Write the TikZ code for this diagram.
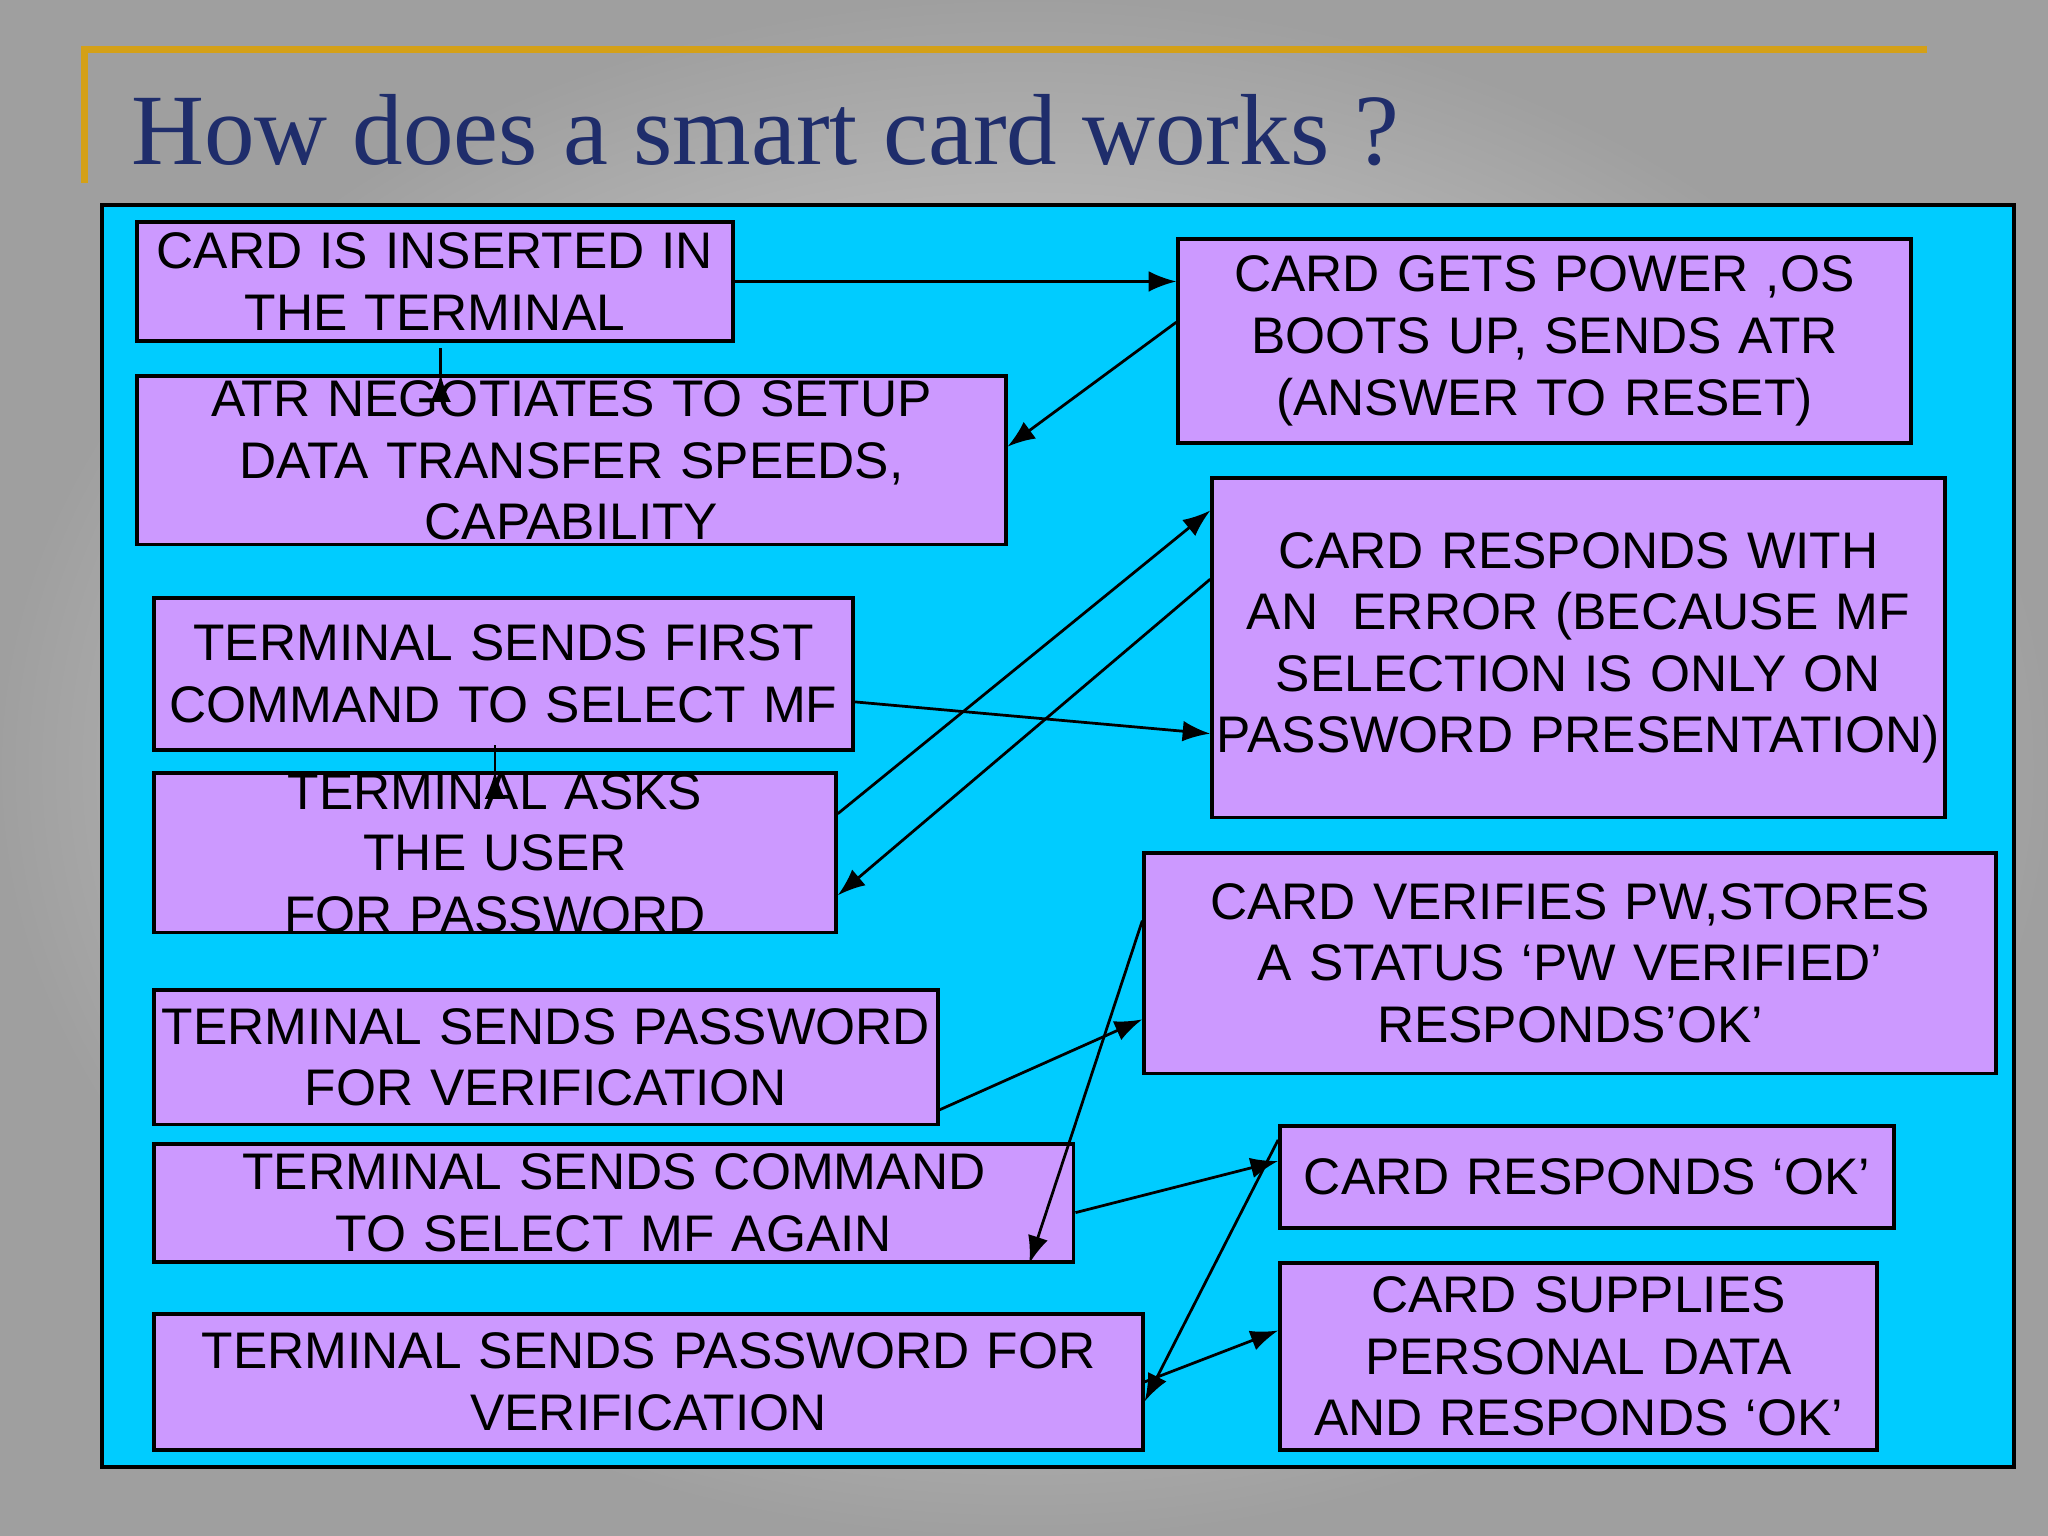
\documentclass[tikz,border=0pt]{standalone}
\usepackage{fontspec}
\setmainfont{Liberation Sans}
\newfontfamily\titlefont{Liberation Serif}
\usetikzlibrary{calc,arrows.meta}
\definecolor{vio}{HTML}{CC99FF}
\definecolor{cyanbg}{HTML}{00CCFF}
\definecolor{navy}{HTML}{1F2D6B}
\definecolor{gold}{HTML}{D4A017}
\tikzset{
 bx/.style={draw=black,line width=0.8pt,fill=vio,inner sep=0pt,align=center,
   font=\fontsize{11.2pt}{13.4pt}\selectfont},
 ar/.style={draw=black,line width=0.6pt,-{Latex[length=6pt,width=4.5pt]}}
}
\newcommand{\bxnode}[5]{\node[bx,text width={(#4-#2)*0.01cm},minimum height={(#5-#3)*0.01cm}] (#1) at ({(#2+#4)/2},{(#3+#5)/2})}
\begin{document}
\begin{tikzpicture}[x=0.01cm,y=-0.01cm]
\useasboundingbox (0,0) rectangle (1568,1176);
\shade[inner color=gray!15,outer color=gray!75] (0,0) rectangle (1568,1176);
\draw[gold,line width=1.5pt] (65,140) -- (65,38) -- (1475,38);
\node[anchor=west,text=navy,font=\titlefont\fontsize{22pt}{26pt}\selectfont] (title) at (88,100) {How does a smart card works ?};
\draw[fill=cyanbg,line width=0.8pt] (78,157) rectangle (1542,1123);
\bxnode{n1}{105}{170}{561}{261}{CARD IS INSERTED IN\\THE TERMINAL};
\bxnode{n2}{902}{183}{1463}{339}{CARD GETS POWER ,OS\\BOOTS UP, SENDS ATR\\(ANSWER TO RESET)};
\bxnode{n3}{105}{288}{770}{417}{ATR NEGOTIATES TO SETUP\\DATA TRANSFER SPEEDS,\\CAPABILITY};
\bxnode{n4}{118}{458}{653}{574}{TERMINAL SENDS FIRST\\COMMAND TO SELECT MF};
\bxnode{n5}{928}{366}{1489}{626}{CARD RESPONDS WITH\\AN\ \ ERROR (BECAUSE MF\\SELECTION IS ONLY ON\\PASSWORD PRESENTATION)};
\bxnode{n6}{118}{601}{640}{705}{TERMINAL ASKS THE USER\\FOR PASSWORD};
\bxnode{n7}{876}{653}{1528}{822}{CARD VERIFIES PW,STORES\\A STATUS ‘PW VERIFIED’\\RESPONDS’OK’};
\bxnode{n8}{118}{758}{718}{861}{TERMINAL SENDS PASSWORD\\FOR VERIFICATION};
\bxnode{n9}{118}{876}{822}{966}{TERMINAL SENDS COMMAND\\TO SELECT MF AGAIN};
\bxnode{n10}{980}{862}{1450}{940}{CARD RESPONDS ‘OK’};
\bxnode{n11}{118}{1006}{875}{1110}{TERMINAL SENDS PASSWORD FOR\\VERIFICATION};
\bxnode{n12}{980}{967}{1437}{1110}{CARD SUPPLIES\\PERSONAL DATA\\AND RESPONDS ‘OK’};
% note: y axis is inverted, so "south" is the visual top
\draw[ar] (n1.east) -- (n1.east -| n2.west);
\draw[ar] ($(n2.south west)!0.59!(n2.north west)$) -- ($(n3.south east)!0.58!(n3.north east)$);
\draw[ar] ($(n3.north west)!0.35!(n3.north east)$) -- ($(n3.north west)!0.35!(n3.north east)$ |- n4.south);
\draw[ar] ($(n4.south east)!0.32!(n4.north east)$) -- ($(n5.south west)!0.25!(n5.north west)$);
\draw[ar] ($(n5.south west)!0.70!(n5.north west)$) -- ($(n6.south east)!0.24!(n6.north east)$);
\draw[ar] ($(n6.south east)!0.74!(n6.north east)$) -- ($(n5.south west)!0.90!(n5.north west)$);
\draw[ar] ($(n6.north west)!0.5!(n6.north east)$) -- ($(n6.north west)!0.5!(n6.north east)$ |- n8.south);
\draw[ar] ($(n8.south east)!0.12!(n8.north east)$) -- ($(n7.south west)!0.25!(n7.north west)$);
\draw[ar] ($(n7.south west)!0.69!(n7.north west)$) -- ($(n9.south west)!0.95!(n9.south east)$);
\draw[ar] ($(n9.south east)!0.42!(n9.north east)$) -- ($(n10.south west)!0.65!(n10.north west)$);
\draw[ar] ($(n10.south west)!0.85!(n10.north west)$) -- ($(n11.south east)!0.36!(n11.north east)$);
\draw[ar] ($(n11.south east)!0.50!(n11.north east)$) -- ($(n12.south west)!0.636!(n12.north west)$);
\end{tikzpicture}
\end{document}
